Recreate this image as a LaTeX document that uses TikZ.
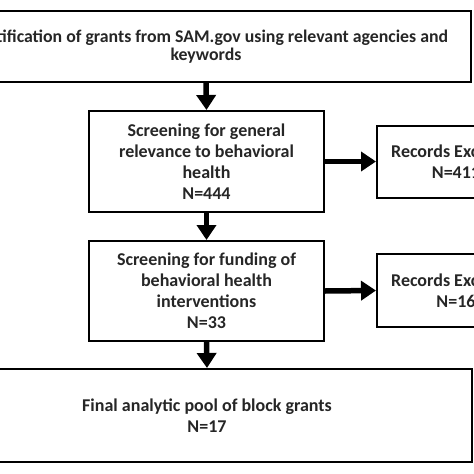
\documentclass[tikz,border=0pt]{standalone}
\usepackage{fontspec}
\setmainfont{Carlito}
\usetikzlibrary{arrows.meta}

\tikzset{
  stage/.style={draw=black, line width=2pt, fill=white, align=center, inner sep=0pt,
                font=\fontsize{18}{21}\selectfont\bfseries, text=black!85},
  arr/.style={line width=5.5pt, -{Triangle[length=15pt,width=19pt]}}
}

\begin{document}
\begin{tikzpicture}[x=1pt,y=-1pt]
        \clip (0,0) rectangle (474,474);
        \fill[white] (0,0) rectangle (474,474);

        % main flow
        \node[stage, minimum width=530pt, minimum height=71pt,
              font=\fontsize{17.8}{18}\selectfont\bfseries] (ident) at (206,46.5)
              {Identification of grants from SAM.gov using relevant agencies and\\keywords};
        \node[stage, minimum width=235pt, minimum height=101pt] (screen1) at (206.5,161.5)
              {Screening for general\\relevance to behavioral\\health\\N=444};
        \node[stage, minimum width=235pt, minimum height=100pt] (screen2) at (206.5,291)
              {Screening for funding of\\behavioral health\\interventions\\N=33};
        \node[stage, minimum width=530pt, minimum height=93pt] (final) at (207,415.5)
              {Final analytic pool of block grants\\N=17};

        % exclusions
        \node[stage, minimum width=158pt, minimum height=72pt] (excl1) at (456,161.5)
              {Records Excluded\\N=411};
        \node[stage, minimum width=158pt, minimum height=73pt] (excl2) at (456,290.5)
              {Records Excluded\\N=16};

        % connectors
        \draw[arr] (ident.south) -- (screen1.north);
        \draw[arr] (screen1.south) -- (screen2.north);
        \draw[arr] (screen2.south) -- (final.north);
        \draw[arr] (screen1.east) -- (excl1.west);
        \draw[arr] (screen2.east) -- (excl2.west);
\end{tikzpicture}
\end{document}
